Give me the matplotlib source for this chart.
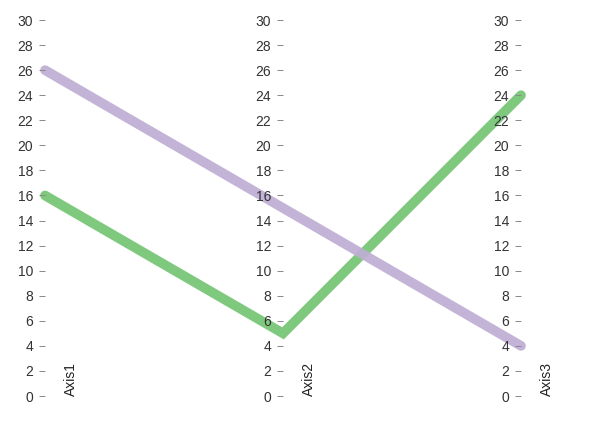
import matplotlib.pyplot as plt

axes_names = ['Axis1', 'Axis2', 'Axis3']
series_purple = [26, 15, 4]
series_green = [16, 5, 24]
tick_values = list(range(0, 31, 2))

plt.rcParams['font.family'] = ['Liberation Sans', 'DejaVu Sans']

W, H = 590, 430
fig = plt.figure(figsize=(W / 100, H / 100), dpi=100)

left, right = 45 / W, 521 / W
bottom, top = (H - 396) / H, (H - 20) / H

ax = fig.add_axes([left, bottom, right - left, top - bottom])
ax.set_xlim(0, len(axes_names) - 1)
ax.set_ylim(0, 30)
ax.axis('off')

xs = list(range(len(axes_names)))
ax.plot(xs, series_green, color='#7fc97f', lw=7, solid_capstyle='round',
        solid_joinstyle='miter', zorder=2, clip_on=False)
ax.plot(xs, series_purple, color='#beaed4', lw=7, solid_capstyle='round',
        solid_joinstyle='miter', alpha=0.92, zorder=3, clip_on=False)

# one thin axes per dimension for the ticks, drawn above the lines
for i, name in enumerate(axes_names):
    xpos = left + (right - left) * i / (len(axes_names) - 1)
    tax = fig.add_axes([xpos, bottom, 0.0001, top - bottom])
    tax.set_ylim(0, 30)
    tax.set_yticks(tick_values)
    tax.set_xticks([])
    for s in tax.spines.values():
        s.set_visible(False)
    tax.patch.set_visible(False)
    tax.tick_params(axis='y', length=4.5, width=0.7, color='#888888',
                    pad=4, labelsize=10, labelcolor='#333333')
    ax.annotate(name, xy=(i, 0), xytext=(18.5, 0), textcoords='offset points',
                rotation=90, ha='center', va='bottom', fontsize=10,
                color='#222222', annotation_clip=False)

fig.savefig('out.png', dpi=100)
